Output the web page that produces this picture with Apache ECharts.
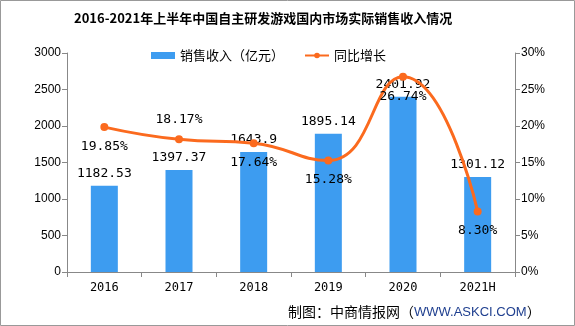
<!doctype html>
<html lang="zh-CN">
<head>
<meta charset="UTF-8" />
<title>2016-2021年上半年中国自主研发游戏国内市场实际销售收入情况</title>
<script src="https://cdn.jsdelivr.net/npm/echarts@6/dist/echarts.min.js"></script>
<style>
  html, body { margin: 0; padding: 0; background: #fff; }
  #chart { width: 575px; height: 326px; }
</style>
</head>
<body>
<div id="chart"></div>
<script>
  // 数据
  var years = ['2016', '2017', '2018', '2019', '2020', '2021H'];
  var revenue = [1182.53, 1397.37, 1643.9, 1895.14, 2401.92, 1301.12];
  var growth = [19.85, 18.17, 17.64, 15.28, 26.74, 8.30];
  var growthLabelPos = ['bottom', 'top', 'bottom', 'bottom', 'bottom', 'bottom'];

  var monoFont = '"DejaVu Sans Mono", "Liberation Mono", monospace';
  var cjkFont = '"Noto Sans CJK SC", sans-serif';

  var chart = echarts.init(document.getElementById('chart'));

  var option = {
    backgroundColor: '#fff',
    animation: false,
    title: {
      text: '2016-2021年上半年中国自主研发游戏国内市场实际销售收入情况',
      left: 69,
      top: 7,
      textStyle: { fontFamily: cjkFont, fontSize: 13, fontWeight: 'bold', color: '#000' }
    },
    legend: {
      top: 44,
      left: 146,
      itemWidth: 24,
      itemHeight: 7,
      itemGap: 20,
      textStyle: { fontFamily: cjkFont, fontSize: 13, color: '#000' },
      data: [
        { name: '销售收入（亿元）', icon: 'rect' },
        { name: '同比增长' }
      ]
    },
    grid: { left: 67, right: 60, top: 53, bottom: 54 },
    xAxis: {
      type: 'category',
      data: years,
      axisLine: { lineStyle: { color: '#888' } },
      axisTick: { show: true, lineStyle: { color: '#888' } },
      axisLabel: { color: '#000', fontFamily: monoFont, fontSize: 12, margin: 10 }
    },
    yAxis: [
      {
        type: 'value',
        min: 0, max: 3000, interval: 500,
        axisLine: { show: true, lineStyle: { color: '#888' } },
        axisTick: { show: true, lineStyle: { color: '#888' } },
        splitLine: { show: false },
        axisLabel: {
          color: '#000', fontFamily: 'Liberation Sans, Arial, sans-serif', fontSize: 12, margin: 6,
          formatter: function (v) { return String(v); }
        }
      },
      {
        type: 'value',
        min: 0, max: 30, interval: 5,
        axisLine: { show: true, lineStyle: { color: '#888' } },
        axisTick: { show: true, lineStyle: { color: '#888' } },
        splitLine: { show: false },
        axisLabel: { color: '#000', fontFamily: 'Liberation Sans, Arial, sans-serif', fontSize: 12, margin: 6, formatter: '{value}%' }
      }
    ],
    series: [
      {
        name: '销售收入（亿元）',
        type: 'bar',
        barWidth: 27,
        itemStyle: { color: '#3d9cf0' },
        label: {
          show: true, position: 'top', distance: 6,
          color: '#000', fontFamily: monoFont, fontSize: 13
        },
        data: revenue
      },
      {
        name: '同比增长',
        type: 'line',
        yAxisIndex: 1,
        smooth: true,
        symbol: 'circle',
        symbolSize: 8,
        lineStyle: { color: '#fb6a1e', width: 3 },
        itemStyle: { color: '#fb6a1e' },
        label: {
          show: true, distance: 9,
          color: '#000', fontFamily: monoFont, fontSize: 13,
          formatter: function (p) { return p.value.toFixed(2) + '%'; }
        },
        data: growth.map(function (v, i) {
          return { value: v, label: { position: growthLabelPos[i] } };
        }),
        z: 3
      }
    ],
    graphic: [
      {
        type: 'rect',
        shape: { x: 0.5, y: 0.5, width: 574, height: 325 },
        style: { fill: 'none', stroke: '#999', lineWidth: 1 },
        silent: true
      },
      {
        type: 'text',
        left: 288,
        top: 305,
        style: {
          text: '制图：中商情报网（{b|WWW.ASKCI.COM}）',
          rich: { b: { fontFamily: 'Liberation Sans, Arial, sans-serif', fontSize: 13, fill: '#1f3f8f' } },
          font: '14px "Noto Sans CJK SC", sans-serif',
          fill: '#000'
        }
      }
    ]
  };

  chart.setOption(option);
</script>
</body>
</html>
